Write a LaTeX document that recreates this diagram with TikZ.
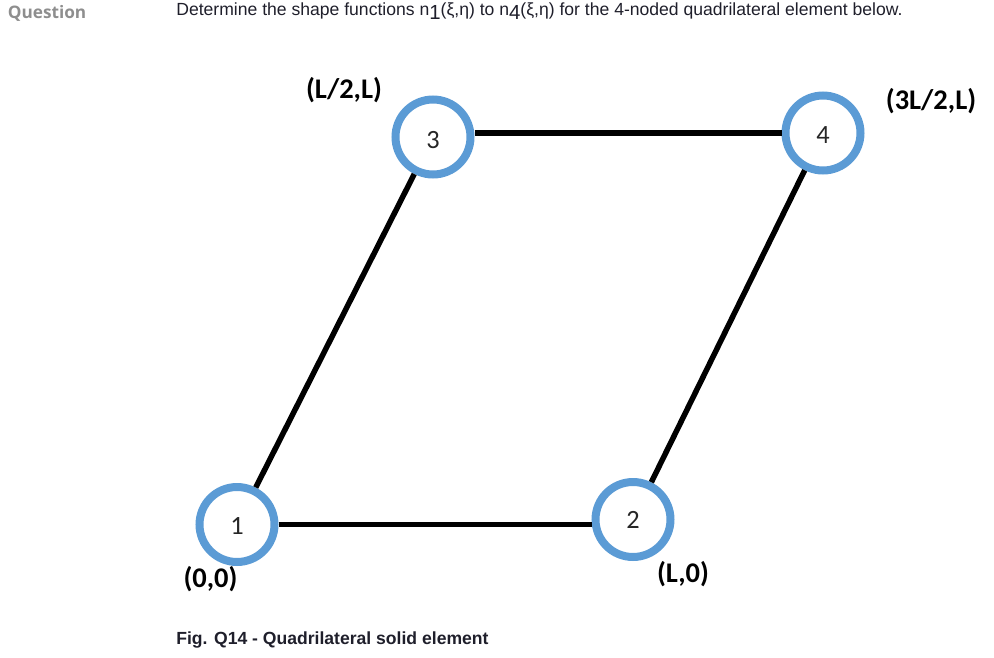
\documentclass[tikz,border=0pt]{standalone}
\usepackage{fontspec}
\setmainfont{Liberation Sans}
\newfontfamily\labelfont{Carlito}
\newfontfamily\headfont{Open Sans}
\usetikzlibrary{positioning}
\definecolor{ringblue}{HTML}{5B9BD5}
\definecolor{headgray}{HTML}{8E8E8E}
\definecolor{textdark}{HTML}{1F1F2B}
\tikzset{
  elemnode/.style={circle,draw=ringblue,line width=0.16cm,fill=white,inner sep=0pt,
    minimum size=1.5cm,text depth=0pt,font=\labelfont\fontsize{15}{16}\selectfont,text=black!85},
  elemedge/.style={line width=0.11cm,black},
  coordlabel/.style={font=\labelfont\bfseries\fontsize{16.2}{18}\selectfont,inner sep=0pt},
  bodytext/.style={font=\fontsize{10}{12}\selectfont,text=textdark,anchor=west,inner sep=0pt}
}
\newcommand{\lowdigit}[1]{\raisebox{-2.4pt}{\fontsize{11.6}{12}\selectfont #1}}

\begin{document}
\begin{tikzpicture}
  \useasboundingbox (0,0) rectangle (19.88,-13.16);

  % Header
  \node[font=\headfont\bfseries\fontsize{9.8}{12}\selectfont,text=headgray,anchor=west,inner sep=0pt]
    (head) at (0.15,-0.26) {Question};
  \node[bodytext] (task) at (3.52,-0.22)
    {Determine the shape functions n\lowdigit{1}(ξ,η) to n\lowdigit{4}(ξ,η) for the 4-noded quadrilateral element below.};

  % Element nodes
  \node[elemnode,text height=11.5pt] (n1) at (4.74,-10.49) {1};
  \node[elemnode,text height=10.5pt] (n2) at (12.66,-10.39) {2};
  \node[elemnode,text height=13.5pt] (n3) at (8.66,-2.74) {3};
  \node[elemnode,text height=11.5pt] (n4) at (16.46,-2.66) {4};

  % Element edges
  \draw[elemedge] (n1) -- (n3);
  \draw[elemedge] (n2) -- (n4);
  \draw[elemedge] (n1.east) -- (n1.east-|n2.west);
  \draw[elemedge] (n4.west-|n3.east) -- (n4.west);

  % Nodal coordinates
  \node[coordlabel] (c1) at (4.21,-11.59) {(0,0)};
  \node[coordlabel] (c2) at (13.66,-11.48) {(L,0)};
  \node[coordlabel] (c3) at (6.88,-1.81) {(L/2,L)};
  \node[coordlabel] (c4) at (18.62,-2.03) {(3L/2,L)};

  % Caption
  \node[bodytext,font=\bfseries\fontsize{10}{12}\selectfont] (caption) at (3.52,-12.79)
    {Fig. Q14 - Quadrilateral solid element};
\end{tikzpicture}
\end{document}
